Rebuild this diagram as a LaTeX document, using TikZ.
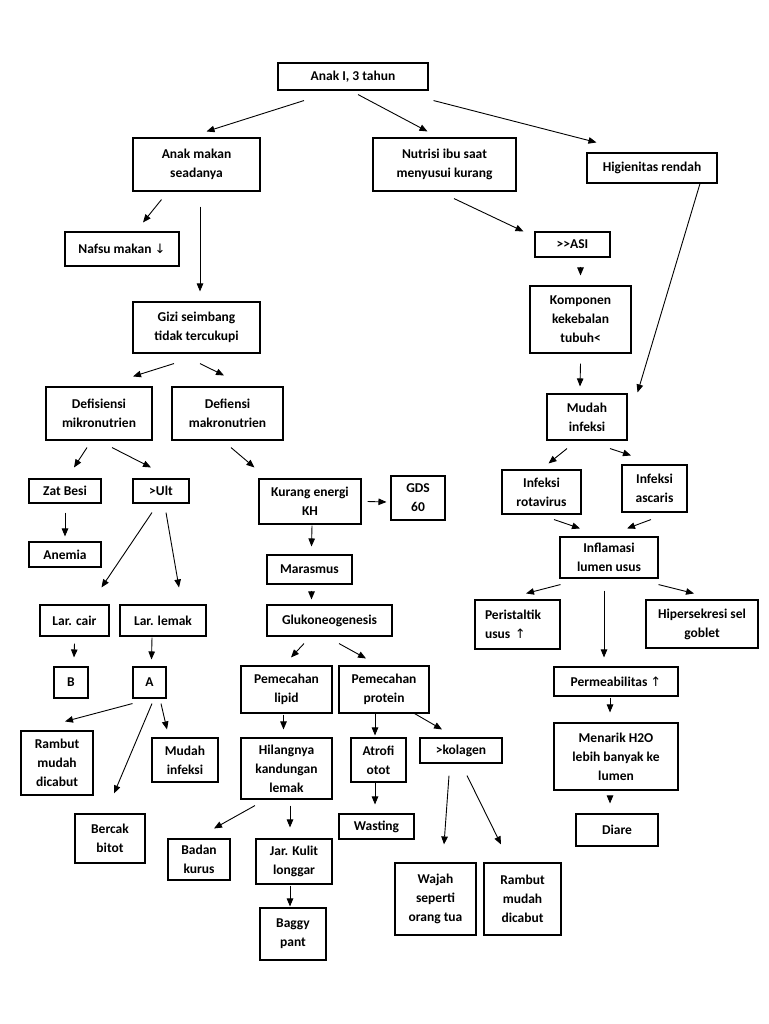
\documentclass[tikz,border=0pt]{standalone}
\usepackage{fontspec}
\setmainfont{Carlito}
\newfontfamily\arrowfont{DejaVu Sans}
\usetikzlibrary{arrows.meta}
\usetikzlibrary{calc}
\newcommand{\up}{{\arrowfont\mdseries\fontsize{13}{19}\selectfont ↑}}
\newcommand{\down}{{\arrowfont\mdseries\fontsize{13}{19}\selectfont ↓}}

\begin{document}
\begin{tikzpicture}[x=1pt, y=-1pt,
    box/.style={draw, line width=1.1pt, inner sep=0pt, align=center,
                font=\bfseries\fontsize{13.5}{19}\selectfont},
    wh/.style 2 args={minimum width=#1, minimum height=#2},
    arr/.style={line width=0.9pt, -{Triangle[length=8pt,width=6.5pt]}}]
    \useasboundingbox (0,0) rectangle (768,1024);
    \fill[white] (0,0) rectangle (768,1024);
    % boxes
    \node[box, wh={150}{27}] (top) at (353,76.5) {Anak I, 3 tahun};
    \node[box, wh={127}{53}] (eat) at (196.5,164.5) {Anak makan\\seadanya};
    \node[box, wh={143}{53}] (milk) at (444.5,164.5) {Nutrisi ibu saat\\menyusui kurang};
    \node[box, wh={130}{30}] (hyg) at (652,168) {Higienitas rendah};
    \node[box, wh={114}{34}] (appetite) at (122,249) {Nafsu makan \down};
    \node[box, wh={75}{25}] (asi) at (572.5,244.5) {>{}>ASI};
    \node[box, wh={127}{51}] (gizi) at (196.5,327.5) {Gizi seimbang\\tidak tercukupi};
    \node[box, wh={101}{67}] (imun) at (580.5,319.5) {Komponen\\kekebalan\\tubuh<};
    \node[box, wh={106}{53}] (mikro) at (99,413.5) {Defisiensi\\mikronutrien};
    \node[box, wh={111}{53}] (makro) at (227.5,413.5) {Defiensi\\makronutrien};
    \node[box, wh={80}{46}] (inf) at (587,417) {Mudah\\infeksi};
    \node[box, wh={72}{24}] (besi) at (65,491) {Zat Besi};
    \node[box, wh={56}{24}] (ult) at (161,491) {>Ult};
    \node[box, wh={102}{45}] (kh) at (310,501.5) {Kurang energi\\KH};
    \node[box, wh={54}{44}] (gds) at (418,498) {GDS\\60};
    \node[box, wh={79}{44}] (rota) at (541.5,492) {Infeksi\\rotavirus};
    \node[box, wh={65}{47}] (asc) at (654.5,488.5) {Infeksi\\ascaris};
    \node[box, wh={72}{25}] (anemia) at (65,554.5) {Anemia};
    \node[box, wh={85}{29}] (maras) at (309.5,569.5) {Marasmus};
    \node[box, wh={98}{41}] (infl) at (609,557.5) {Inflamasi\\lumen usus};
    \node[box, wh={69}{31}] (cair) at (74.5,620.5) {Lar. cair};
    \node[box, wh={86}{31}] (lemak) at (163,620.5) {Lar. lemak};
    \node[box, wh={125}{31}] (gluko) at (329.5,620.5) {Glukoneogenesis};
    \node[box, wh={85}{49}, align=left, text width=65pt, inner xsep=10pt] (peris) at (517.5,624.5) {Peristaltik\\usus \up};
    \node[box, wh={112}{48}] (hiper) at (702,624) {Hipersekresi sel\\goblet};
    \node[box, wh={34}{31}] (vitb) at (71,682.5) {B};
    \node[box, wh={33}{31}] (vita) at (149.5,682.5) {A};
    \node[box, wh={91}{47}] (lipid) at (286.5,689.5) {Pemecahan\\lipid};
    \node[box, wh={90}{47}] (prot) at (384,689.5) {Pemecahan\\protein};
    \node[box, wh={124}{29}] (perm) at (616,681.5) {Permeabilitas \up};
    \node[box, wh={72}{64}] (hair1) at (57,763) {Rambut\\mudah\\dicabut};
    \node[box, wh={66}{44}] (infa) at (185,760) {Mudah\\infeksi};
    \node[box, wh={91}{61}] (fat) at (286.5,768.5) {Hilangnya\\kandungan\\lemak};
    \node[box, wh={55}{44}] (atrofi) at (378.5,760) {Atrofi\\otot};
    \node[box, wh={82}{25}] (kolagen) at (461,750.5) {>kolagen};
    \node[box, wh={124}{67}] (water) at (616,756.5) {Menarik H2O\\lebih banyak ke\\lumen};
    \node[box, wh={70}{49}] (bitot) at (110,838.5) {Bercak\\bitot};
    \node[box, wh={75}{25}] (wasting) at (376.5,826.5) {Wasting};
    \node[box, wh={82}{32}] (diare) at (617,830) {Diare};
    \node[box, wh={62}{41}] (kurus) at (199,859.5) {Badan\\kurus};
    \node[box, wh={76}{45}] (kulit) at (294,861.5) {Jar. Kulit\\longgar};
    \node[box, wh={81}{72}] (face) at (435.5,899) {Wajah\\seperti\\orang tua};
    \node[box, wh={77}{72}] (hair2) at (522.5,899) {Rambut\\mudah\\dicabut};
    \node[box, wh={66}{52}] (baggy) at (293,934) {Baggy\\pant};
    % arrows
    \draw[arr] ($(top.south)+(-49,10)$) -- ($(eat.north)+(10,-6)$);
    \draw[arr] ($(top.south)+(5,4)$) -- ($(milk.north)+(-17,-6)$);
    \draw[arr] ($(top.south east)+(5,10)$) -- ($(hyg.north west)+(10,-10)$);
    \draw[arr] ($(eat.south)+(-35,8)$) -- ($(appetite.north)+(21,-9)$);
    \draw[arr] ($(eat.south)+(3.5,15)$) -- ($(gizi.north)+(3.5,-10)$);
    \draw[arr] ($(milk.south)+(9.5,7)$) -- ($(asi.north west)+(-11,0)$);
    \draw[arr] ($(asi.south)+(8,9)$) -- ($(imun.north)+(0,-10)$);
    \draw[arr] ($(imun.south)+(0,10)$) -- ($(inf.north)+(-7,-7)$);
    \draw[arr] ($(hyg.south)+(48,0)$) -- ($(inf.north east)+(10,-1)$);
    \draw[arr] ($(gizi.south)+(-22.5,10)$) -- ($(mikro.north)+(34,-10)$);
    \draw[arr] ($(gizi.south)+(3.5,10)$) -- ($(makro.north)+(-3.5,-11)$);
    \draw[arr] ($(mikro.south)+(-12,7)$) -- ($(besi.north)+(9,-11)$);
    \draw[arr] ($(mikro.south)+(13,7)$) -- ($(ult.north)+(-10,-11)$);
    \draw[arr] ($(makro.south)+(3.5,7)$) -- ($(kh.north west)+(-4,-11)$);
    \draw[arr] ($(besi.south)+(0,9)$) -- ($(anemia.north)+(0,-5)$);
    \draw[arr] ($(ult.south)+(-9,9)$) -- ($(cair.north)+(27,-17)$);
    \draw[arr] ($(ult.south)+(5,9)$) -- ($(lemak.north)+(16,-17)$);
    \draw[arr] ($(cair.south)+(0,7)$) -- ($(vitb.north)+(3,-9)$);
    \draw[arr] ($(lemak.south)+(-11,1)$) -- ($(vita.north)+(2,-7)$);
    \draw[arr] ($(vita.south west)+(0,5)$) -- ($(hair1.north)+(8,-9)$);
    \draw[arr] ($(vita.south)+(2.5,5)$) -- ($(bitot.north)+(4,-20)$);
    \draw[arr] ($(vita.south)+(11.5,5)$) -- ($(infa.north)+(-18,-8)$);
    \draw[arr] ($(kh.south)+(2,1)$) -- ($(maras.north)+(2,-8)$);
    \draw[arr] ($(kh.east)+(6,0)$) -- ($(gds.west)+(-4,4)$);
    \draw[arr] ($(maras.south)+(2,6)$) -- ($(gluko.north)+(-18,-5)$);
    \draw[arr] ($(gluko.south)+(-25.5,7)$) -- ($(lipid.north)+(4.5,-8)$);
    \draw[arr] ($(gluko.south)+(9.5,7)$) -- ($(prot.north)+(-18,-7)$);
    \draw[arr] ($(lipid.south)+(-3,1)$) -- ($(fat.north)+(-3,-8)$);
    \draw[arr] ($(fat.south)+(-31.5,6)$) -- ($(kurus.north)+(15,-10)$);
    \draw[arr] ($(fat.south)+(3.5,6)$) -- ($(kulit.north)+(-4,-11)$);
    \draw[arr] ($(kulit.south)+(-4,1)$) -- ($(baggy.north)+(-3,-1)$);
    \draw[arr] ($(prot.south)+(-9,0)$) -- ($(atrofi.north)+(-3.5,-2)$);
    \draw[arr] ($(atrofi.south)+(-3.5,0)$) -- ($(wasting.north)+(-1.5,-9)$);
    \draw[arr] ($(prot.south east)+(-15,0)$) -- ($(kolagen.north)+(-19,-8)$);
    \draw[arr] ($(kolagen.south)+(-12,12)$) -- ($(face.north)+(8.5,-18)$);
    \draw[arr] ($(kolagen.south)+(6,12)$) -- ($(hair2.north)+(-21.5,-18)$);
    \draw[arr] ($(inf.south)+(-20,8)$) -- ($(rota.north)+(7,-6)$);
    \draw[arr] ($(inf.south)+(23,8)$) -- ($(asc.north)+(-23.5,-9)$);
    \draw[arr] ($(rota.south)+(12.5,5)$) -- ($(infl.north)+(-29,-8)$);
    \draw[arr] ($(asc.south)+(-3.5,7)$) -- ($(infl.north)+(18,-8)$);
    \draw[arr] ($(infl.south west)+(1,6)$) -- ($(peris.north)+(8.5,-6)$);
    \draw[arr] ($(infl.south)+(-5,12)$) -- ($(perm.north)+(-12,-9)$);
    \draw[arr] ($(infl.south east)+(0,6)$) -- ($(hiper.north)+(-8,-6)$);
    \draw[arr] ($(perm.south)+(-6,1)$) -- ($(water.north)+(-6,-10)$);
    \draw[arr] ($(water.south)+(-6,5)$) -- ($(diare.north)+(-7,-10)$);
\end{tikzpicture}
\end{document}
